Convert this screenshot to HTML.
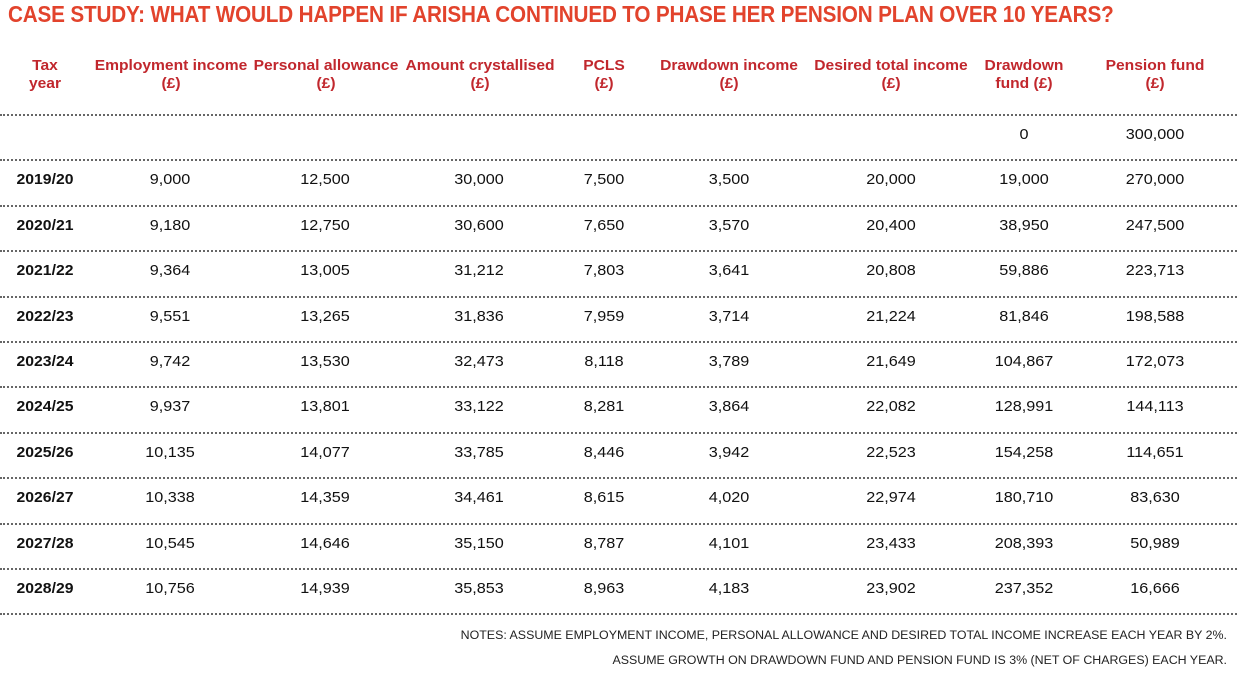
<!DOCTYPE html>
<html><head><meta charset="utf-8"><style>
body{margin:0;width:1237px;height:677px;background:#fff;position:relative;overflow:hidden;font-family:"Liberation Sans",sans-serif}
.t{position:absolute;left:8px;top:1px;font-size:23px;font-weight:bold;color:#e2432c;white-space:nowrap;transform:scaleX(0.9);transform-origin:left top;letter-spacing:-0.2px}
.h{position:absolute;top:57px;font-size:15px;font-weight:bold;color:#c1272d;text-align:center;line-height:18px;white-space:nowrap;transform:translateX(-50%) scaleX(1.04)}
.l{position:absolute;left:0;width:1237px;height:0;border-top:2px dotted #666}
.r{position:absolute;left:0;width:1237px;height:20px;font-size:15px;color:#111}
.r span{position:absolute;transform:translateX(-50%) scaleX(1.08);white-space:nowrap}
.r span:first-child{font-weight:bold;transform:translateX(-50%) scaleX(1.05)}
.n{position:absolute;right:10px;font-size:12.4px;color:#222;white-space:nowrap}
</style></head><body>
<div class="t">CASE STUDY: WHAT WOULD HAPPEN IF ARISHA CONTINUED TO PHASE HER PENSION PLAN OVER 10 YEARS?</div>
<div class="h" style="left:45px">Tax<br>year</div>
<div class="h" style="left:171px">Employment income<br>(£)</div>
<div class="h" style="left:326px">Personal allowance<br>(£)</div>
<div class="h" style="left:480px">Amount crystallised<br>(£)</div>
<div class="h" style="left:604px">PCLS<br>(£)</div>
<div class="h" style="left:729px">Drawdown income<br>(£)</div>
<div class="h" style="left:891px">Desired total income<br>(£)</div>
<div class="h" style="left:1024px">Drawdown<br>fund (£)</div>
<div class="h" style="left:1155px">Pension fund<br>(£)</div>
<div id="g"></div>
<div class="n" style="top:628px">NOTES: ASSUME EMPLOYMENT INCOME, PERSONAL ALLOWANCE AND DESIRED TOTAL INCOME INCREASE EACH YEAR BY 2%.</div>
<div class="n" style="top:653px">ASSUME GROWTH ON DRAWDOWN FUND AND PENSION FUND IS 3% (NET OF CHARGES) EACH YEAR.</div>
<script>
var xs=[45,170,325,479,604,729,891,1024,1155];
var rows=[["","","","","","","","0","300,000"],
["2019/20","9,000","12,500","30,000","7,500","3,500","20,000","19,000","270,000"],
["2020/21","9,180","12,750","30,600","7,650","3,570","20,400","38,950","247,500"],
["2021/22","9,364","13,005","31,212","7,803","3,641","20,808","59,886","223,713"],
["2022/23","9,551","13,265","31,836","7,959","3,714","21,224","81,846","198,588"],
["2023/24","9,742","13,530","32,473","8,118","3,789","21,649","104,867","172,073"],
["2024/25","9,937","13,801","33,122","8,281","3,864","22,082","128,991","144,113"],
["2025/26","10,135","14,077","33,785","8,446","3,942","22,523","154,258","114,651"],
["2026/27","10,338","14,359","34,461","8,615","4,020","22,974","180,710","83,630"],
["2027/28","10,545","14,646","35,150","8,787","4,101","23,433","208,393","50,989"],
["2028/29","10,756","14,939","35,853","8,963","4,183","23,902","237,352","16,666"]];
var h="";
for(var i=0;i<=11;i++){h+='<div class="l" style="top:'+(114+i*45.4).toFixed(1)+'px"></div>';}
rows.forEach(function(r,i){var y=(126+i*45.4).toFixed(1);h+='<div class="r" style="top:'+y+'px">';r.forEach(function(c,j){h+='<span style="left:'+xs[j]+'px">'+c+'</span>';});h+='</div>';});
document.getElementById("g").innerHTML=h;
</script>
</body></html>
